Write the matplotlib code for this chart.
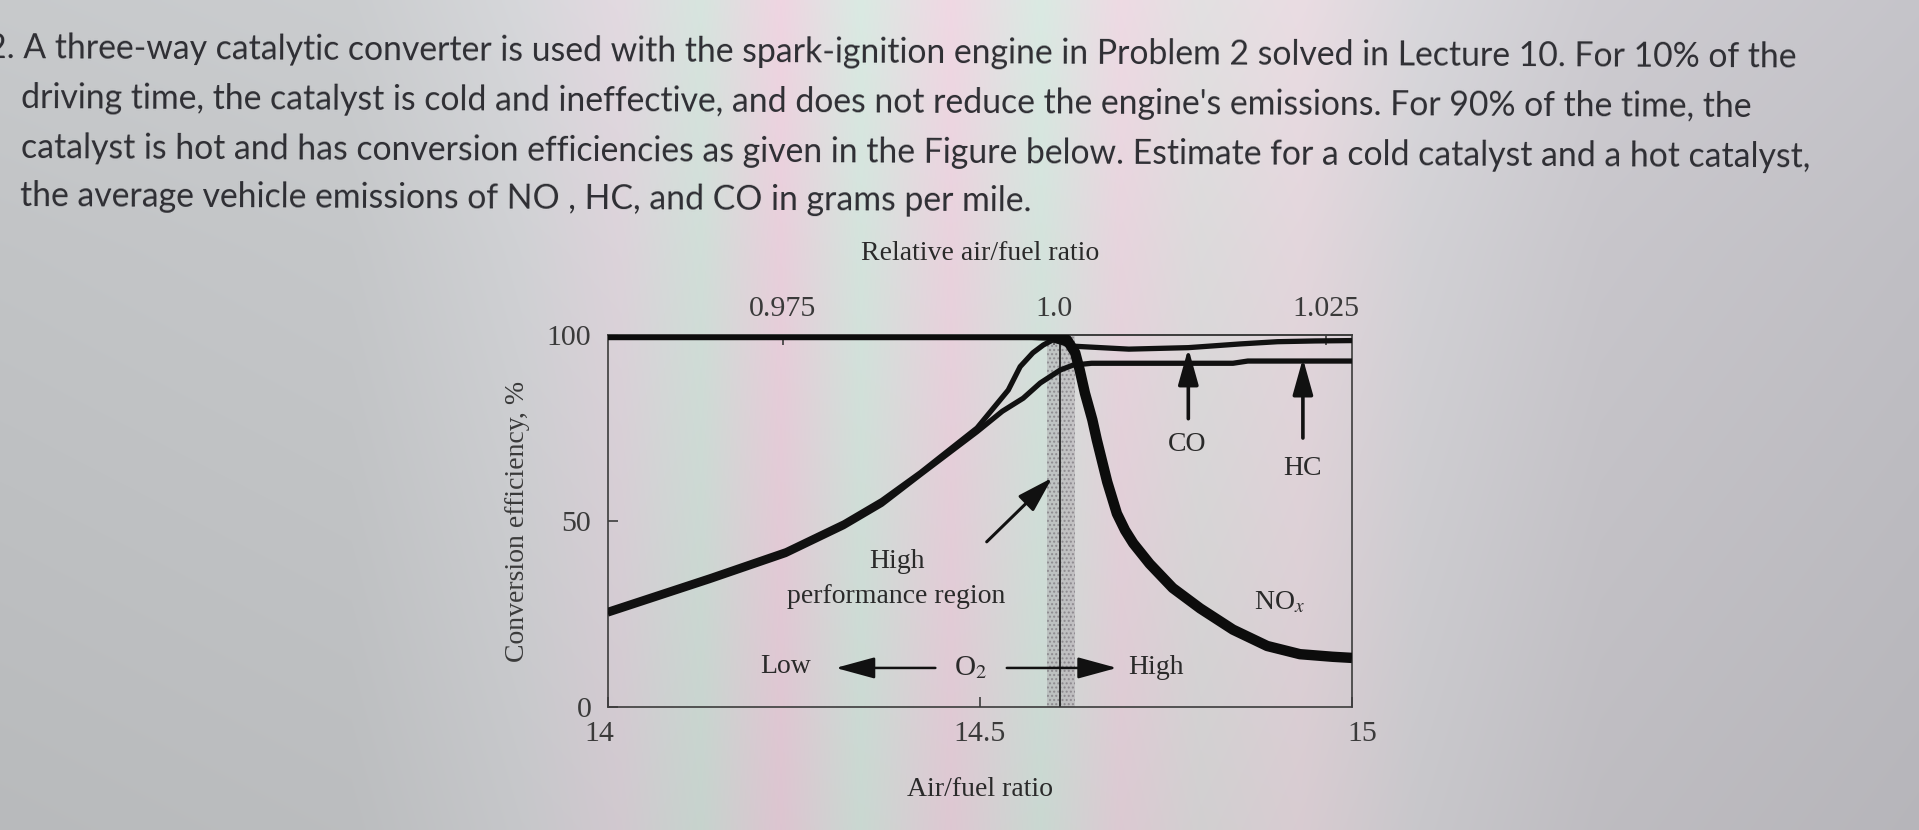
import matplotlib
matplotlib.use("Agg")
import matplotlib.pyplot as plt
from matplotlib.transforms import ScaledTranslation
import numpy as np

# ---------------- data ----------------
afr_ticks = [14, 14.5, 15]
afr_tick_labels = ["14", "14.5", "15"]
eff_ticks = [0, 50, 100]
eff_tick_labels = ["0", "50", "100"]
rel_ticks = [0.975, 1.0, 1.025]
rel_tick_labels = ["0.975", "1.0", "1.025"]
stoich_afr = 14.6

nox_afr = [14.0, 14.3, 14.57, 14.598, 14.617, 14.628, 14.634, 14.641, 14.651, 14.657,
           14.671, 14.684, 14.695, 14.706, 14.728, 14.759, 14.796, 14.840, 14.886, 14.930, 14.974, 15.0]
nox_eff = [100, 100, 100, 99.8, 98.7, 95.2, 90.6, 84.4, 77.2, 71.8,
           60.5, 52.0, 47.5, 44.0, 38.5, 32.0, 26.5, 20.8, 16.4, 14.2, 13.5, 13.2]

co_afr = [14.0, 14.137, 14.239, 14.317, 14.368, 14.42, 14.496, 14.538, 14.554, 14.571,
          14.585, 14.598, 14.61, 14.625, 14.7, 14.78, 14.85, 14.9, 14.95, 15.0]
co_eff = [26.0, 35.0, 42.0, 49.5, 55.5, 63.0, 75.0, 85.2, 91.5, 95.2,
          97.3, 98.7, 98.0, 97.0, 96.2, 96.6, 97.6, 98.2, 98.4, 98.5]

hc_afr = [14.0, 14.137, 14.239, 14.317, 14.368, 14.42, 14.496, 14.53, 14.558, 14.581,
          14.608, 14.625, 14.65, 14.75, 14.84, 14.86, 15.0]
hc_eff = [25.0, 34.0, 41.0, 48.5, 54.5, 62.5, 74.0, 79.5, 83.0, 87.1,
          90.6, 91.9, 92.4, 92.4, 92.4, 93.0, 93.0]

band_afr = [14.59, 14.628]
band_line_afr = 14.607

question_lines = [
    "2. A three-way catalytic converter is used with the spark-ignition engine in Problem 2 solved in Lecture 10. For 10% of the",
    "driving time, the catalyst is cold and ineffective, and does not reduce the engine's emissions. For 90% of the time, the",
    "catalyst is hot and has conversion efficiencies as given in the Figure below. Estimate for a cold catalyst and a hot catalyst,",
    "the average vehicle emissions of NO , HC, and CO in grams per mile.",
]

# ---------------- figure ----------------
W, H = 1919, 830
fig = plt.figure(figsize=(W / 100, H / 100), dpi=100)

# photographed-screen background
stop_x = [0, 350, 520, 620, 700, 780, 860, 950, 1040, 1120, 1200, 1300, 1420, 1600, 1919]
stop_c = [(190, 192, 194), (193, 195, 197), (204, 205, 208), (216, 207, 214), (205, 218, 212),
          (228, 203, 215), (208, 223, 216), (229, 206, 217), (208, 223, 216), (227, 208, 217),
          (216, 214, 215), (223, 210, 216), (206, 205, 209), (196, 194, 199), (188, 187, 192)]
xs = np.arange(W)
row = np.stack([np.interp(xs, stop_x, [c[i] for c in stop_c]) for i in range(3)], axis=-1)
vy = np.interp(np.arange(H), [0, 250, 830], [1.05, 1.02, 0.97])
img = np.clip(row[None, :, :] * vy[:, None, None], 0, 255).astype(np.uint8)
bg = fig.add_axes([0, 0, 1, 1], zorder=-10)
bg.imshow(img, extent=[0, 1, 0, 1], aspect="auto", interpolation="bilinear")
bg.axis("off")

# question text
qcolor = "#2e2e33"
probe = fig.text(0, 0, question_lines[0][3:], family="Lato", fontsize=21)
fig.canvas.draw()
wpx = probe.get_window_extent().width
probe.remove()
qfs = 21 * (1799 - 24) / wpx
baselines = [58, 108, 158, 206]
lefts = [-13, 21, 21, 20]
for txt, yb, xl in zip(question_lines, baselines, lefts):
    fig.text(xl / W, 1 - yb / H, txt, family="Lato", fontsize=qfs, color=qcolor,
             ha="left", va="baseline", rotation=-0.3, rotation_mode="anchor")

# ---------------- chart ----------------
plt.rcParams["mathtext.fontset"] = "stix"
serif = "Liberation Serif"
fs = 20
tfs = 21.5
tcol = "#2a2a2a"

ax = fig.add_axes([608 / W, 1 - 707 / H, (1352 - 608) / W, (707 - 335) / H])
ax.patch.set_alpha(0)
ax.set_xlim(14, 15)
ax.set_ylim(0, 100)

ax.axvspan(band_afr[0], band_afr[1], facecolor=(0.58, 0.55, 0.58, 0.30),
           edgecolor=(0.45, 0.43, 0.46, 0.6), hatch="....", linewidth=0, zorder=1)
ax.axvline(band_line_afr, color="#222222", lw=1.3, zorder=2)

ax.plot(hc_afr, hc_eff, color="#111111", lw=3.8, solid_capstyle="butt", zorder=3)
ax.plot(co_afr, co_eff, color="#111111", lw=3.8, solid_capstyle="butt", zorder=3)
ax.plot(nox_afr, nox_eff, color="#0c0c0c", lw=7.5, solid_capstyle="butt",
        solid_joinstyle="round", zorder=4)

# CO / HC arrows and labels
arr = dict(arrowstyle="-|>,head_length=1.0,head_width=0.28", color="#111111", lw=2.6,
           mutation_scale=22, shrinkA=0, shrinkB=0)
ax.annotate("", xy=(14.78, 96.4), xytext=(14.78, 77.5), arrowprops=arr, zorder=5)
ax.annotate("", xy=(14.934, 93.7), xytext=(14.934, 72.3), arrowprops=arr, zorder=5)
ax.text(14.778, 70.5, "CO", family=serif, fontsize=fs, color=tcol, ha="center", va="center")
ax.text(14.934, 64, "HC", family=serif, fontsize=fs, color=tcol, ha="center", va="center")
ax.text(14.903, 28, r"NO$_x$", family=serif, fontsize=fs, color=tcol, ha="center", va="center")

# high performance region
ax.text(14.388, 39.0, "High", family=serif, fontsize=fs, color=tcol, ha="center", va="center")
ax.text(14.387, 29.6, "performance region", family=serif, fontsize=fs, color=tcol,
        ha="center", va="center")
ax.annotate("", xy=(14.597, 61.6), xytext=(14.509, 44.4),
            arrowprops=dict(arrowstyle="-|>,head_length=1.0,head_width=0.3", color="#111111",
                            lw=2.2, mutation_scale=22, shrinkA=0, shrinkB=0), zorder=5)

# O2 arrows
o2arr = dict(arrowstyle="-|>,head_length=1.1,head_width=0.3", color="#111111", lw=1.8,
             mutation_scale=22, shrinkA=0, shrinkB=0)
ax.annotate("", xy=(14.306, 10.5), xytext=(14.44, 10.5), arrowprops=o2arr, zorder=5)
ax.annotate("", xy=(14.684, 10.5), xytext=(14.536, 10.5), arrowprops=o2arr, zorder=5)
ax.text(14.239, 10.8, "Low", family=serif, fontsize=fs, color=tcol, ha="center", va="center")
ax.text(14.487, 10.6, r"O$_2$", family=serif, fontsize=fs + 1, color=tcol, ha="center", va="center")
ax.text(14.737, 10.5, "High", family=serif, fontsize=fs, color=tcol, ha="center", va="center")

# axes styling
for s in ax.spines.values():
    s.set_color("#3c3c3c")
    s.set_linewidth(1.2)
ax.set_xticks(afr_ticks)
ax.set_xticklabels(afr_tick_labels, family=serif, fontsize=tfs, color="#3a3a3a")
ax.set_yticks(eff_ticks)
ax.set_yticklabels(eff_tick_labels, family=serif, fontsize=tfs, color="#3a3a3a")
ax.tick_params(axis="both", direction="in", length=7, width=1.2, color="#3c3c3c")
ax.tick_params(axis="x", pad=10)
ax.tick_params(axis="y", pad=12)
ax.set_xlabel("Air/fuel ratio", family=serif, fontsize=fs, color=tcol, labelpad=22)
ax.set_ylabel("Conversion efficiency, %", family=serif, fontsize=fs, color="#3a3a3a", labelpad=12)
xl = ax.get_xticklabels()
xl[0].set_transform(xl[0].get_transform() + ScaledTranslation(-0.09, 0, fig.dpi_scale_trans))
xl[2].set_transform(xl[2].get_transform() + ScaledTranslation(0.10, 0, fig.dpi_scale_trans))

sec = ax.secondary_xaxis("top", functions=(lambda a: a / stoich_afr, lambda r: r * stoich_afr))
sec.set_xticks(rel_ticks)
sec.set_xticklabels(rel_tick_labels, family=serif, fontsize=tfs, color="#3a3a3a")
sec.tick_params(direction="in", length=7, width=1.2, color="#3c3c3c", pad=9)
sec.spines["top"].set_color("#3c3c3c")
sec.spines["top"].set_linewidth(1.2)
sec.set_xlabel("Relative air/fuel ratio", family=serif, fontsize=fs, color=tcol, labelpad=26)

fig.savefig("out.png", dpi=100)
